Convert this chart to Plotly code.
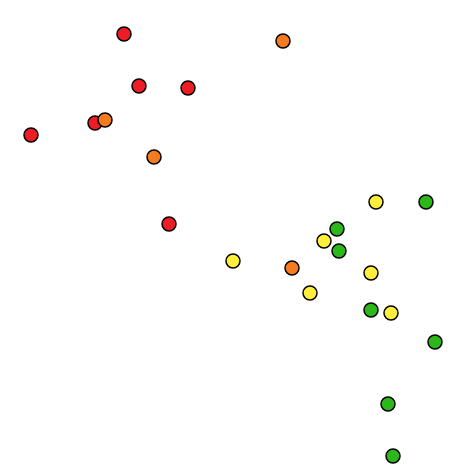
import plotly.graph_objects as go

red_x = [124, 139, 188, 31, 95, 169]
red_y = [34, 86, 88, 135, 123, 224]
orange_x = [283, 105, 154, 292]
orange_y = [41, 120, 157, 268]
yellow_x = [376, 324, 233, 371, 310, 391]
yellow_y = [202, 241, 261, 273, 293, 313]
green_x = [426, 337, 339, 371, 435, 388, 393]
green_y = [202, 229, 251, 310, 342, 404, 456]

series = [
    (red_x, red_y, "#ee1c25"),
    (orange_x, orange_y, "#f47b20"),
    (yellow_x, yellow_y, "#ffef3a"),
    (green_x, green_y, "#2cb81a"),
]

fig = go.Figure()
for xs, ys, c in series:
    fig.add_trace(go.Scatter(
        x=xs, y=ys, mode="markers",
        marker=dict(size=14, color=c, line=dict(color="black", width=1.5)),
        showlegend=False,
    ))

# page body adds ~8px offset, compensate in the axis ranges
fig.update_xaxes(visible=False, range=[8, 482])
fig.update_yaxes(visible=False, range=[482, 8])
fig.add_shape(type="rect", xref="paper", yref="paper", x0=-0.02, x1=1.02, y0=1.0, y1=1.012,
              fillcolor="#333333", line_width=0)
fig.update_layout(width=474, height=474, margin=dict(l=0, r=0, t=0, b=0),
                  plot_bgcolor="white", paper_bgcolor="white")

fig.write_html("out.html")
